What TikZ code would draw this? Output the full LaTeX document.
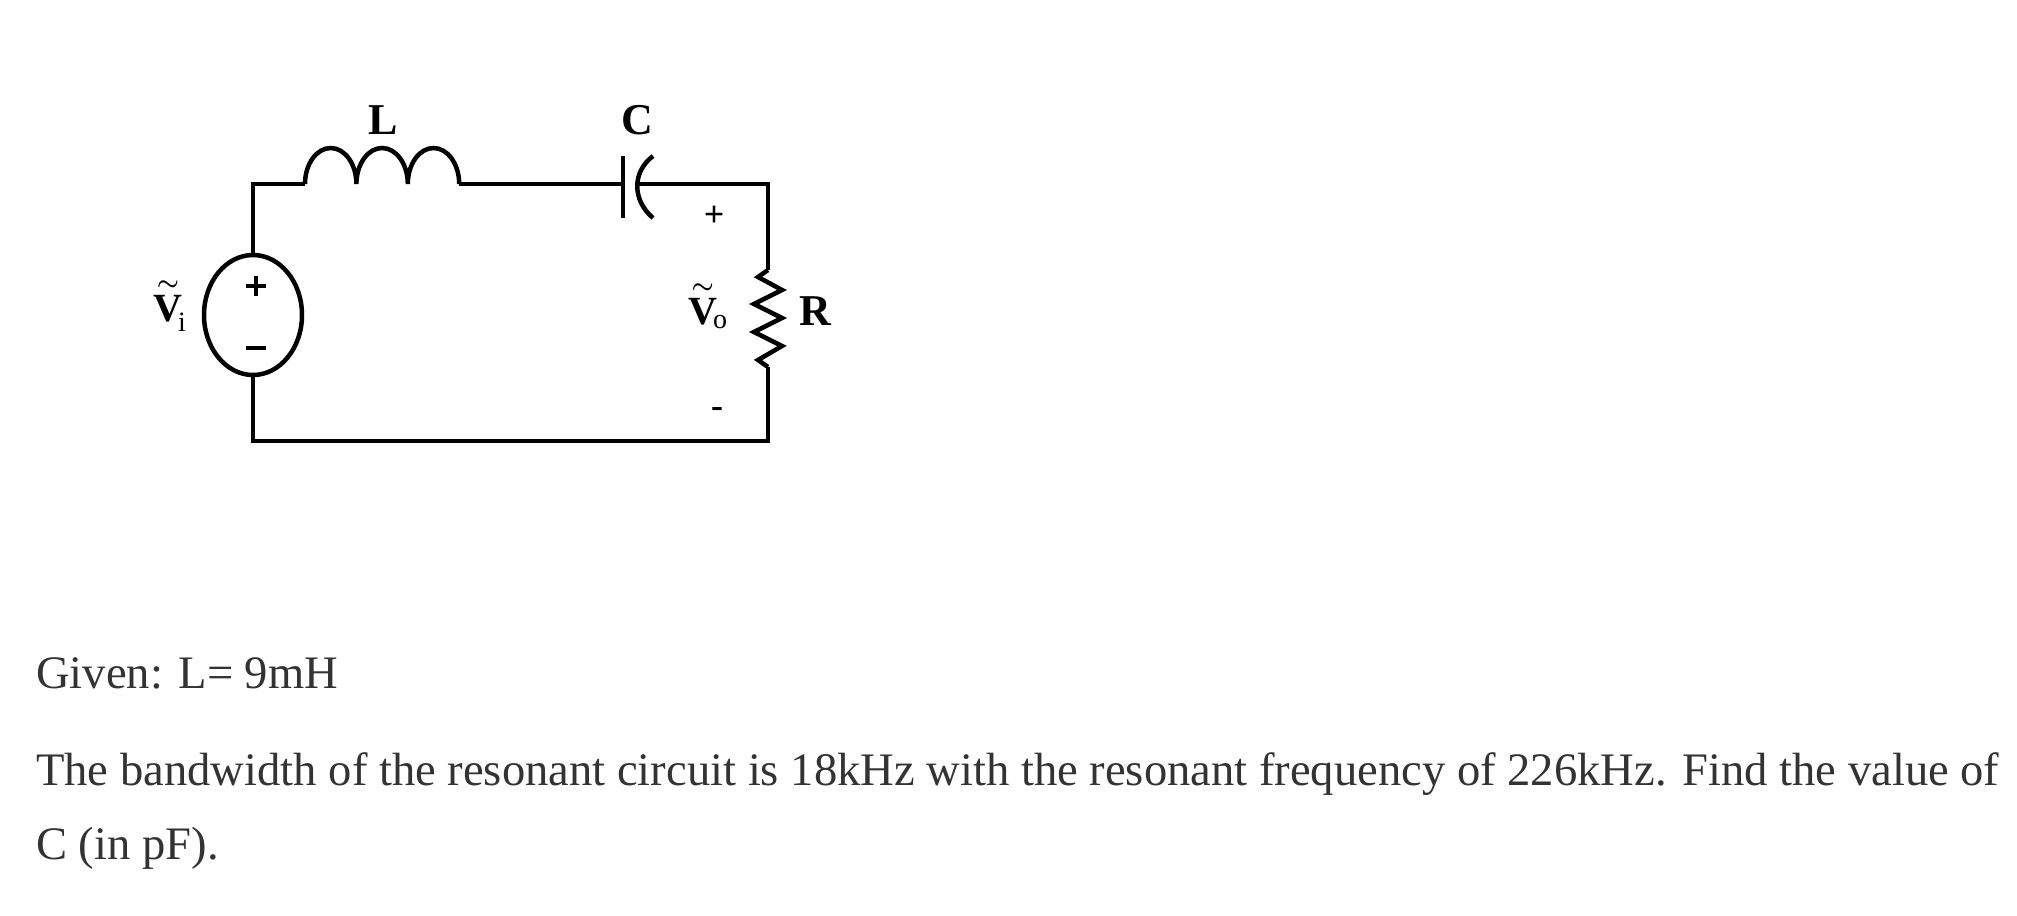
\documentclass[tikz,border=0pt]{standalone}
\usepackage{amsmath}
\usepackage{fontspec}
\setmainfont{Liberation Serif}
\usetikzlibrary{shapes.geometric}
\begin{document}
\begin{tikzpicture}[x=1pt,y=-1pt,
 w/.style={line width=4.5pt,line join=miter},
 lab/.style={font=\fontsize{44}{48}\selectfont\bfseries},
 sg/.style={line width=4pt},
 txt/.style={anchor=base west,text=black!80,font=\fontsize{46.6}{50}\selectfont,inner sep=0}]
\useasboundingbox (0,0) rectangle (2017,915);
\coordinate (tl) at (253,184);
\coordinate (tr) at (768,184);
\coordinate (bl) at (253,441);
\coordinate (br) at (768,441);
\node[draw,ellipse,line width=4.5pt,minimum width=98,minimum height=120,inner sep=0] (src) at (253,315) {};
\coordinate (l1) at (305,184);
\coordinate (l2) at (459,184);
\coordinate (c1) at (623,184);
\coordinate (c2) at (638,184);
\coordinate (r1) at (768,270);
\coordinate (r2) at (768,367);
% wires
\draw[w] (src.north) -- (tl) -- (l1);
\draw[w] (l2) -- (c1);
\draw[w] (c2) -- (tr) -- (r1);
\draw[w] (r2) -- (br) -- (bl) -- (src.south);
% inductor
\draw[w] (l1) arc[start angle=180,end angle=0,x radius=25.7,y radius=-36]
  arc[start angle=180,end angle=0,x radius=25.7,y radius=-36]
  arc[start angle=180,end angle=0,x radius=25.7,y radius=-36];
% capacitor
\draw[w] (623,156) -- (623,218);
\draw[w] (653,156) .. controls (632,172) and (632,200) .. (653,218);
% resistor
\draw[w] (r1) -- (758,277) -- (782,290) -- (754,304) -- (782,318) -- (754,332) -- (782,346) -- (758,360) -- (r2);
% source signs
\coordinate (pc) at (256,286);
\draw[sg] ([xshift=-10pt]pc) -- ([xshift=10pt]pc) ([yshift=-10pt]pc) -- ([yshift=10pt]pc);
\coordinate (mc) at (256,348);
\draw[sg] ([xshift=-10pt]mc) -- ([xshift=10pt]mc);
% labels
\node[lab] (Ll) at (383,120) {L};
\node[lab] (Cl) at (637,120) {C};
\node[lab] (Rl) at (815,311) {R};
\node[font=\fontsize{40}{44}\selectfont] (vi) at (170,305) {$\overset{\boldsymbol\sim}{\mathbf V}\!_{\mathrm i}$};
\node[font=\fontsize{40}{44}\selectfont] (vo) at (708,305) {$\overset{\boldsymbol\sim}{\mathbf V}\!_{\mathrm o}$};
\node[font=\fontsize{36}{36}\selectfont\bfseries] (p2) at (714,216) {+};
\node[font=\fontsize{36}{36}\selectfont\bfseries] (m2) at (717,412) {-};
% text
\node[txt] (t1) at (36,688) {Given: L= 9mH};
\node[txt] (t2) at (36,785) {The bandwidth of the resonant circuit is 18kHz with the resonant frequency of 226kHz. Find the value of};
\node[txt] (t3) at (36,859) {C (in pF).};
\end{tikzpicture}
\end{document}
